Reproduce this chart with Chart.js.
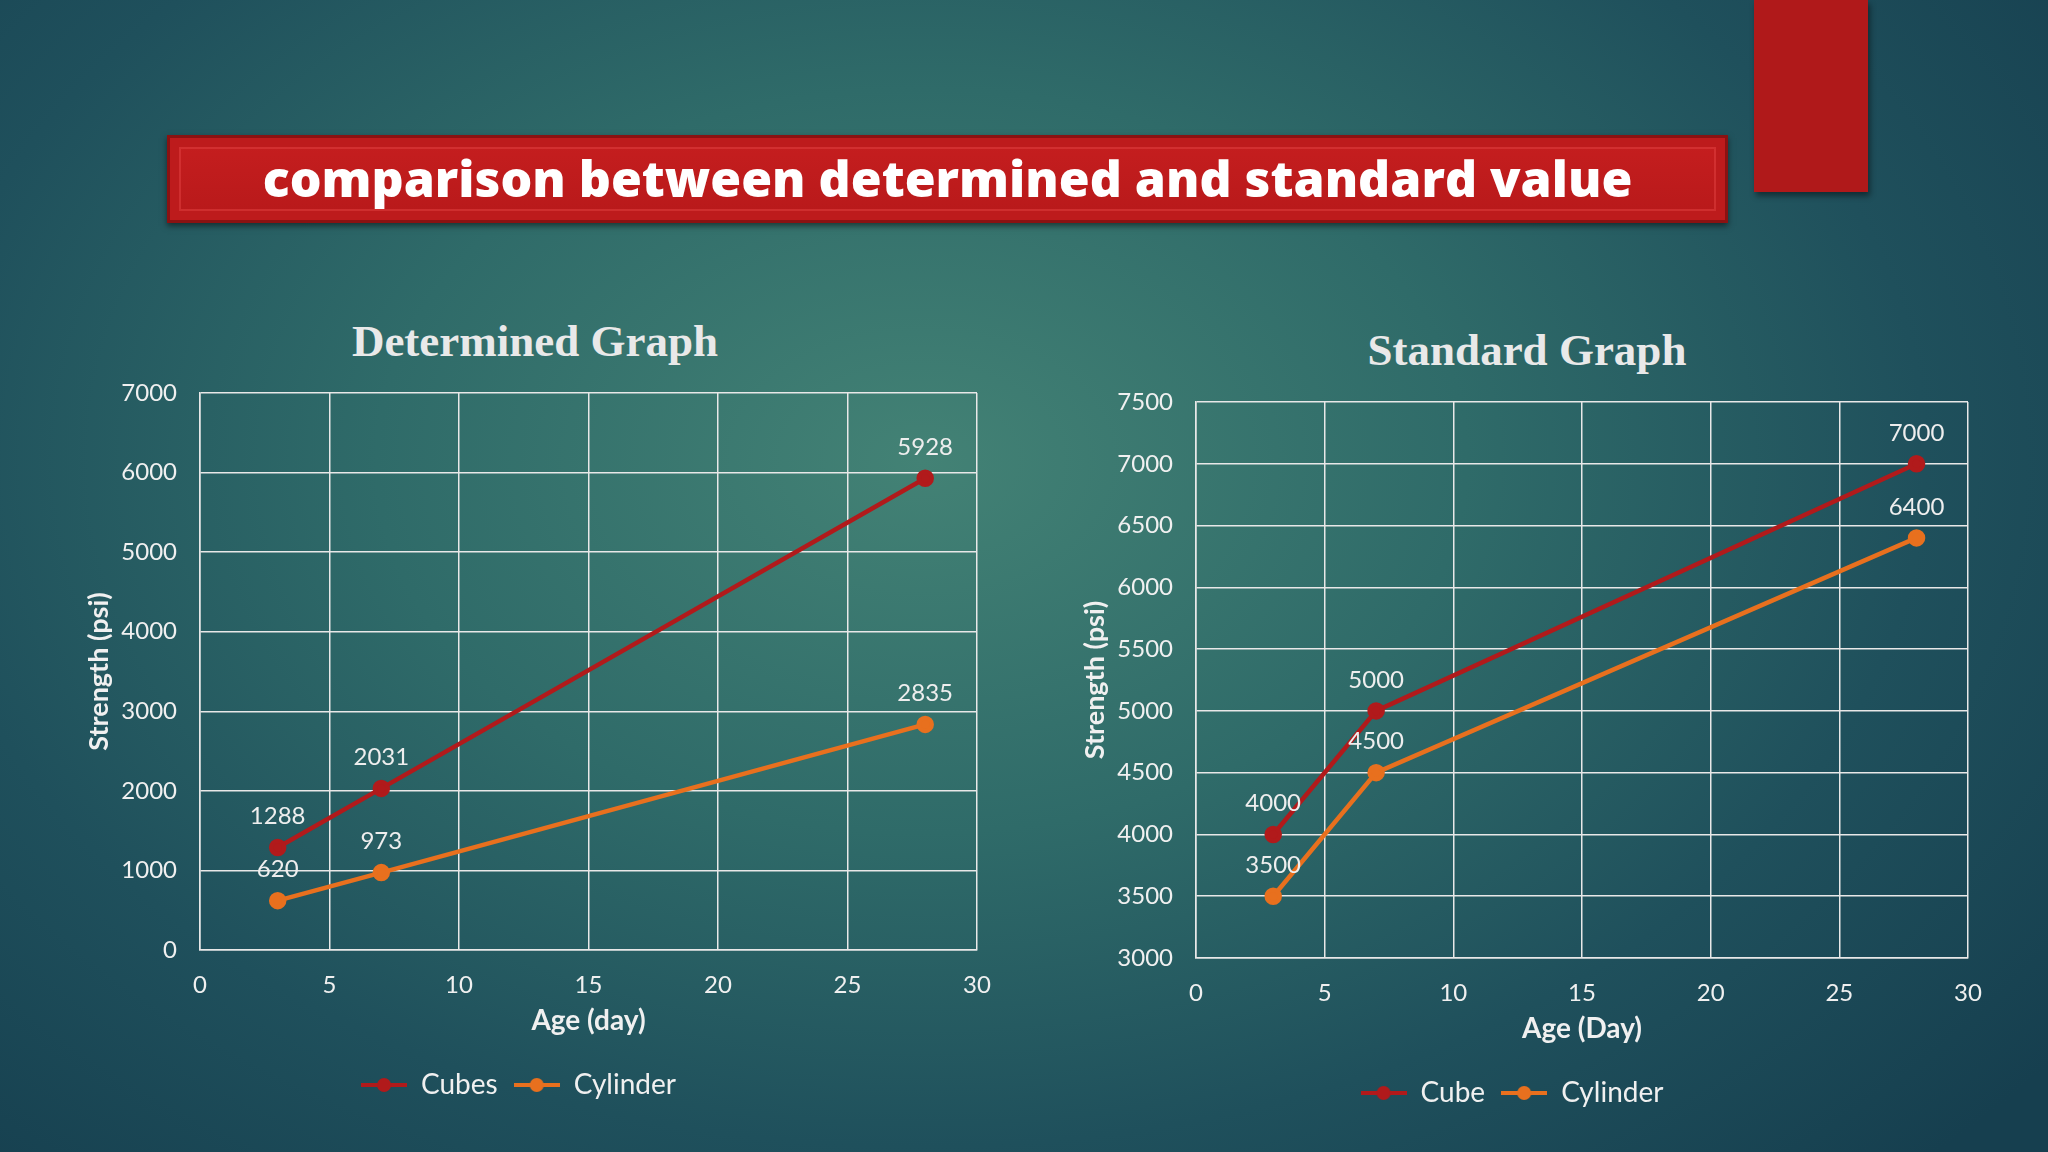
<!DOCTYPE html>
<html>
<head>
<meta charset="utf-8">
<script src="https://cdn.jsdelivr.net/npm/chart.js@4.4.1/dist/chart.umd.min.js"></script>
<style>
  html, body { margin: 0; padding: 0; }
  body {
    width: 2048px; height: 1152px; overflow: hidden; position: relative;
    background: radial-gradient(ellipse 70% 85% at 45% 40%, #438275 0%, #2f6b69 38%, #1f505c 70%, #163f4f 100%);
    font-family: Lato, "Open Sans", sans-serif;
  }
  .tab {
    position: absolute; left: 1754px; top: 0; width: 114px; height: 192px;
    background: #b0191a; box-shadow: 2px 4px 6px rgba(0,0,0,0.45);
  }
  .banner {
    position: absolute; left: 167px; top: 135px; width: 1555px; height: 82px;
    background: linear-gradient(#c61e1f, #b7191a);
    border: 3px solid #8a1212;
    box-shadow: 0 3px 6px rgba(0,0,0,0.5), inset 0 0 0 9px #bd1b1c, inset 0 0 0 11px rgba(220,60,60,0.6);
    color: #fff; text-align: center;
    font: 800 50px "Open Sans", sans-serif; line-height: 80px; letter-spacing: 0;
  }
  .ctitle {
    position: absolute; color: #e9e9e9; text-align: center;
    font: bold 45px "Liberation Serif", "Times New Roman", serif;
  }
  .wrap { position: absolute; line-height: 0; }
</style>
</head>
<body>
<div class="tab"></div>
<div class="banner">comparison between determined and standard value</div>
<div class="ctitle" style="left:285px; top:315px; width:500px;">Determined Graph</div>
<div class="ctitle" style="left:1277px; top:324px; width:500px;">Standard Graph</div>
<div class="wrap" style="left:60px; top:380px;"><canvas id="left" width="940" height="729"></canvas></div>
<div class="wrap" style="left:1056px; top:389px;"><canvas id="right" width="935" height="728"></canvas></div>
<script>
const ages = [3, 7, 28];
const determinedCubes = [1288, 2031, 5928];
const determinedCylinder = [620, 973, 2835];
const standardCube = [4000, 5000, 7000];
const standardCylinder = [3500, 4500, 6400];

const RED = "#b11a1b";
const ORANGE = "#e8701e";
const TEXT = "#f0f0f0";

function legendMarker(color) {
  const c = document.createElement("canvas");
  c.width = 46; c.height = 16;
  const g = c.getContext("2d");
  g.strokeStyle = color; g.lineWidth = 4;
  g.beginPath(); g.moveTo(0, 8); g.lineTo(46, 8); g.stroke();
  g.fillStyle = color;
  g.beginPath(); g.arc(23, 8, 7, 0, Math.PI * 2); g.fill();
  return c;
}

// value labels above each point
const pointLabels = {
  id: "pointLabels",
  afterDatasetsDraw(chart) {
    const ctx = chart.ctx;
    ctx.save();
    ctx.font = "24px Lato, sans-serif";
    ctx.fillStyle = "#eeeeee";
    ctx.textAlign = "center";
    ctx.textBaseline = "middle";
    chart.data.datasets.forEach((ds, i) => {
      chart.getDatasetMeta(i).data.forEach((pt, j) => {
        ctx.fillText(String(ds.data[j].y), pt.x, pt.y - 31);
      });
    });
    ctx.restore();
  }
};

function makeChart(id, names, series, yMin, yMax, yStep, xTitle) {
  const colors = [RED, ORANGE];
  new Chart(document.getElementById(id), {
    type: "line",
    data: {
      datasets: series.map((vals, i) => ({
        label: names[i],
        data: ages.map((a, k) => ({ x: a, y: vals[k] })),
        borderColor: colors[i],
        backgroundColor: colors[i],
        borderWidth: 4.5,
        pointRadius: 6.5,
        pointHoverRadius: 6.5,
        tension: 0,
      })),
    },
    options: {
      responsive: false,
      animation: false,
      layout: { padding: { top: 13, right: 23, left: 0, bottom: 0 } },
      plugins: {
        tooltip: { enabled: false },
        legend: {
          position: "bottom",
          labels: {
            usePointStyle: true,
            pointStyleWidth: 46,
            padding: 16,
            color: TEXT,
            font: { family: "Lato", size: 28 },
            generateLabels: (chart) =>
              Chart.defaults.plugins.legend.labels.generateLabels(chart).map((l, i) => {
                l.pointStyle = legendMarker(colors[i]);
                return l;
              }),
          },
        },
      },
      scales: {
        x: {
          type: "linear",
          min: 0, max: 30,
          afterFit: (s) => { s.height = 105; s.paddingRight = 0; s.paddingLeft = 0; },
          ticks: { stepSize: 5, color: TEXT, padding: 21, font: { family: "Lato", size: 24 },
                   callback: (v) => String(v) },
          grid: { color: "#e8e8e8", lineWidth: 1.5, drawTicks: false },
          border: { color: "#e8e8e8", width: 1.5 },
          title: { display: true, text: xTitle, color: TEXT, padding: { top: 0, bottom: 17 },
                   font: { family: "Lato", size: 28, weight: "bold" } },
        },
        y: {
          min: yMin, max: yMax,
          afterFit: (s) => { s.width = 140; s.paddingTop = 0; s.paddingBottom = 0; },
          ticks: { stepSize: yStep, color: TEXT, padding: 23, font: { family: "Lato", size: 24 },
                   callback: (v) => String(v) },
          grid: { color: "#e8e8e8", lineWidth: 1.5, drawTicks: false },
          border: { color: "#e8e8e8", width: 1.5 },
          title: { display: true, text: "Strength (psi)", color: TEXT, padding: { top: 23, bottom: 0 },
                   font: { family: "Lato", size: 27, weight: "bold" } },
        },
      },
    },
    plugins: [pointLabels],
  });
}

makeChart("left", ["Cubes", "Cylinder"], [determinedCubes, determinedCylinder], 0, 7000, 1000, "Age (day)");
makeChart("right", ["Cube", "Cylinder"], [standardCube, standardCylinder], 3000, 7500, 500, "Age (Day)");
</script>
</body>
</html>
